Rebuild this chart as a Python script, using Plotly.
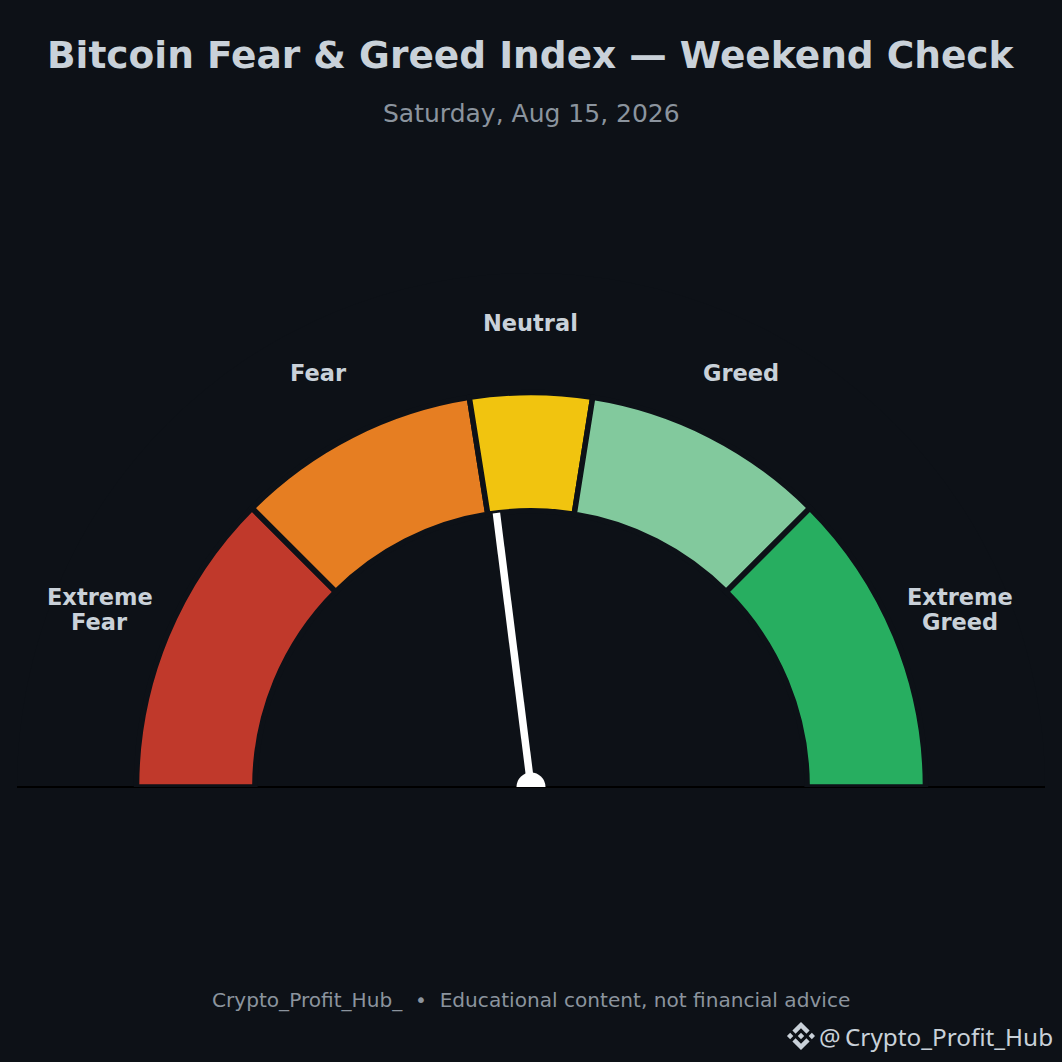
import math

import plotly.graph_objects as go

labels = [["Extreme", "Fear"], ["Fear"], ["Neutral"], ["Greed"], ["Extreme", "Greed"]]
band_sizes = [25, 20, 10, 20, 25]
colors = ["#c0392b", "#e67e22", "#f1c40f", "#82c99d", "#27ae60"]
index_value = 46

BG = "#0d1117"
TEXT = "#c9d1d9"
MUTED = "#8b949e"
SIZE = 1062
INNER = 0.7
OUTER = 1.0
RMAX = 1.303
LABEL_R = 1.18
CENTER_X = 531
CENTER_Y = 787
PX_PER_R = 514 / RMAX
LINE_GAP = 25

# logo polygons, in the logo's own 126.6 unit box
logo_parts = [
    [(38.73, 53.2), (63.32, 28.62), (87.92, 53.22), (102.22, 38.91), (63.32, 0), (24.43, 38.9)],
    [(0, 63.31), (14.3, 49), (28.61, 63.31), (14.3, 77.61)],
    [(38.73, 73.41), (63.32, 98), (87.92, 73.4), (102.23, 87.69), (63.33, 126.6), (24.42, 87.72)],
    [(98, 63.31), (112.3, 49), (126.61, 63.3), (112.3, 77.62)],
    [(77.83, 63.3), (63.32, 48.78), (48.81, 63.28), (63.32, 77.78)],
]


def logo_path(left, top, size):
    path = ""
    for part in logo_parts:
        pts = [
            (
                (left + px / 126.6 * size) / SIZE,
                1 - (top + py / 126.6 * size) / SIZE,
            )
            for px, py in part
        ]
        path += "M" + "L".join(f"{a:.5f},{b:.5f}" for a, b in pts) + "Z"
    return path


def text_at(text, x, y, size, color, family="DejaVu Sans", bold=False, xanchor="center"):
    # x, y given in page pixels from the top left
    return dict(
        text=f"<b>{text}</b>" if bold else text,
        x=x / SIZE,
        y=1 - y / SIZE,
        xref="paper",
        yref="paper",
        xanchor=xanchor,
        yanchor="middle",
        showarrow=False,
        font=dict(size=size, color=color, family=family),
    )


def band_label(lines, angle):
    # one annotation per line, plotly's own <br> spacing is too loose here
    x = CENTER_X - 1 + LABEL_R * PX_PER_R * math.cos(math.radians(angle))
    y = CENTER_Y + 1 - LABEL_R * PX_PER_R * math.sin(math.radians(angle))
    first = y - LINE_GAP * (len(lines) - 1) / 2
    return [
        text_at(line, x, first + i * LINE_GAP, 22.5, TEXT, bold=True)
        for i, line in enumerate(lines)
    ]


# bands run clockwise from 180 (far left) to 0 (far right)
starts = [sum(band_sizes[:i]) for i in range(len(band_sizes))]
widths = [b * 1.8 for b in band_sizes]
mids = [180 - (s + b / 2) * 1.8 for s, b in zip(starts, band_sizes)]
needle_angle = 180 - index_value * 1.8

fig = go.Figure()
fig.add_trace(
    go.Barpolar(
        r=[OUTER - INNER] * len(band_sizes),
        base=INNER,
        theta=mids,
        width=widths,
        marker=dict(color=colors, line=dict(color=BG, width=5.5)),
        hoverinfo="skip",
    )
)
fig.add_trace(
    go.Scatterpolar(
        r=[0, INNER],
        theta=[needle_angle, needle_angle],
        mode="lines",
        line=dict(color="white", width=7.5),
        cliponaxis=True,
        hoverinfo="skip",
    )
)
fig.add_trace(
    go.Scatterpolar(
        r=[0],
        theta=[0],
        mode="markers",
        marker=dict(color="white", size=29),
        cliponaxis=True,
        hoverinfo="skip",
    )
)

annotations = [
    text_at("Bitcoin Fear &amp; Greed Index — Weekend Check", 531, 55, 37.5, TEXT, bold=True),
    text_at("Saturday, Aug 15, 2026", 531, 113, 25, MUTED),
    text_at("Crypto_Profit_Hub_  •  Educational content, not financial advice", 531, 1000, 20.1, MUTED),
    text_at("@", 830, 1036, 24, TEXT, family="Noto Sans"),
    text_at("Crypto_Profit_Hub", 843, 1036, 24.3, TEXT, family="Noto Sans", xanchor="left"),
]
for lines, angle in zip(labels, mids):
    annotations += band_label(lines, angle)

fig.update_layout(
    width=SIZE,
    height=SIZE,
    paper_bgcolor=BG,
    plot_bgcolor=BG,
    showlegend=False,
    margin=dict(l=0, r=0, t=0, b=0),
    polar=dict(
        bgcolor=BG,
        sector=[0, 180],
        domain=dict(x=[17 / SIZE, 1045 / SIZE], y=[(SIZE - CENTER_Y) / SIZE, (SIZE - 273) / SIZE]),
        radialaxis=dict(
            range=[0, RMAX],
            visible=True,
            showgrid=False,
            showticklabels=False,
            ticks="",
            showline=False,
        ),
        angularaxis=dict(
            direction="counterclockwise",
            tickmode="array",
            tickvals=[0, 180],
            showticklabels=False,
            ticks="",
            showline=False,
            gridcolor="black",
            gridwidth=2,
        ),
    ),
    annotations=annotations,
    shapes=[
        dict(
            type="path",
            xref="paper",
            yref="paper",
            path=logo_path(787, 1022, 28),
            fillcolor=TEXT,
            line=dict(width=0),
        )
    ],
)

# page margin would push the figure off the window
fig.write_html(
    "out.html",
    config=dict(displayModeBar=False),
    post_script="document.body.style.margin='0';document.body.style.overflow='hidden';",
)
